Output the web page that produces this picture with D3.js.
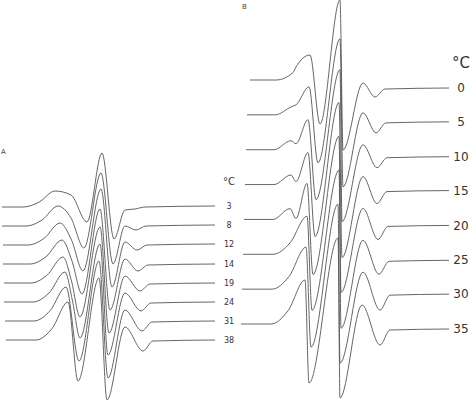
<!DOCTYPE html>
<html><head><meta charset="utf-8">
<script src="https://cdn.jsdelivr.net/npm/d3@7"></script>
<style>body{margin:0;background:#fff}svg{display:block}</style>
</head><body><svg id="c" width="474" height="403"></svg>
<script>
// ---- Panel A (temperatures, °C) ----
const tempsA = [3, 8, 12, 14, 19, 24, 31, 38];
const startA = [2, 2, 3, 3, 4, 4, 5, 6];
const lowXA = [55, 58, 60, 62, 63, 65, 66, 68];
const lowAmpA = [16, 20, 22, 24, 26, 30, 34, 38];
const midAmpA = [12, 8, 5, 3, 2, 1, 0, 0];
const dip1XA = [87, 84, 83, 82, 80, 80, 79, 78];
const dip1AmpA = [-15, -22, -26, -30, -34, -36, -40, -41];
const cPeakXA = [102, 101, 101, 100, 100, 100, 99, 99];
const cPeakAmpA = [54, 53, 56, 55, 56, 58, 60, 62];
const cDipXA = [114, 113, 112, 110, 109, 108, 108, 107];
const cDipAmpA = [-32, -38, -42, -46, -50, -53, -57, -60];
const hPeakXA = [125, 125, 125, 125, 125, 125, 125, 125];
const hPeakAmpA = [-3, 0, 3, 5, 7, 9, 11, 13];
const hDipXA = [135, 136, 137, 138, 140, 141, 142, 143];
const hDipAmpA = [-2, -4, -5, -7, -8, -9, -10, -11];
const tailAmpA = [1, 1, 1, 0, 0, 0, 0, 0];
// ---- Panel B ----
const tempsB = [0, 5, 10, 15, 20, 25, 30, 35];
const startB = [250, 247, 246, 245, 244, 243, 242, 241];
const lowXB = [310, 309, 308, 308, 307, 307, 306, 305];
const lowAmpB = [25, 28, 30, 32, 36, 38, 42, 44];
const shoulderAmpB = [13, 10, 6, 3, 1, 0, 0, 0];
const midAmpB = [0, 0, 0, 0, 0, 0, 0, 0];
const dip1XB = [320, 318, 316, 315, 313, 312, 311, 309];
const dip1AmpB = [-44, -48, -50, -52, -55, -56, -58, -59];
const cPeakXB = [340, 340, 340, 339, 339, 339, 338, 338];
const cPeakAmpB = [80, 76, 80, 82, 83, 84, 85, 86];
const cDipXB = [343, 343, 342, 342, 341, 341, 340, 340];
const cDipAmpB = [-70, -72, -72, -73, -73, -74, -74, -74];
const hPeakXB = [363, 363, 363, 363, 363, 363, 363, 362];
const hPeakAmpB = [-3, 2, 5, 8, 11, 14, 17, 19];
const hDipXB = [375, 376, 377, 377, 378, 379, 380, 380];
const hDipAmpB = [-17, -18, -18, -19, -20, -20, -21, -21];
const tailAmpB = [-8, -7, -7, -6, -6, -6, -5, -5];

const svg = d3.select("#c");
const col = "#555";

function buildPoints(P, i, endX, shoulderX) {
  const pts = [[P.start[i], 0], [P.lowX[i] - P.rise, 0], [P.lowX[i] - P.rise / 2, P.lowAmp[i] * 0.3]];
  if (P.shoulder && P.shoulder[i] > 0) pts.push([shoulderX, P.shoulder[i]]);
  pts.push([P.lowX[i], P.lowAmp[i]]);
  if (P.mid[i] > 0) pts.push([(P.lowX[i] + P.dip1X[i]) / 2, P.mid[i]]);
  pts.push([P.dip1X[i], P.dip1Amp[i]]);
  pts.push([P.cPeakX[i], P.cPeakAmp[i]]);
  pts.push([P.cDipX[i], P.cDipAmp[i]]);
  pts.push([P.hPeakX[i], P.hPeakAmp[i]]);
  pts.push([P.hDipX[i], P.hDipAmp[i]]);
  pts.push([P.hDipX[i] + 10, P.tail[i] - 1]);
  pts.push([endX, P.tail[i]]);
  return pts;
}

function panel(P) {
  const x = d3.scaleLinear().domain(P.xDomain).range(P.xRange);
  const yBase = d3.scaleLinear().domain([0, P.temps.length - 1]).range(P.baseRange);
  const g = svg.append("g");
  P.temps.forEach((t, i) => {
    const pts = buildPoints(P, i, P.endX, P.shoulderX);
    const line = d3.line().x(d => x(d[0])).y(d => yBase(i) - d[1] * P.ampScale).curve(d3.curveMonotoneX);
    g.append("path").attr("d", line(pts)).attr("fill", "none").attr("stroke", col).attr("stroke-width", 0.9);
    g.append("text").attr("x", P.labelX).attr("y", yBase(i) - P.tail[i] * P.ampScale + P.fs * 0.35)
      .attr("font-family", "DejaVu Sans, sans-serif").attr("font-size", P.fs).attr("fill", "#333")
      .attr("text-anchor", "middle").text(t);
  });
  g.append("text").attr("x", P.labelX).attr("y", P.unitY).attr("font-family", "DejaVu Sans, sans-serif")
    .attr("font-size", P.fs * 1.25).attr("fill", "#333").attr("text-anchor", "middle").text("°C");
  g.append("text").attr("x", P.letterX).attr("y", P.letterY).attr("font-family", "DejaVu Sans, sans-serif")
    .attr("font-size", 7).attr("fill", "#444").text(P.letter);
}

panel({temps: tempsA, start: startA, lowX: lowXA, lowAmp: lowAmpA, mid: midAmpA, dip1X: dip1XA, dip1Amp: dip1AmpA,
  cPeakX: cPeakXA, cPeakAmp: cPeakAmpA, cDipX: cDipXA, cDipAmp: cDipAmpA, hPeakX: hPeakXA, hPeakAmp: hPeakAmpA,
  hDipX: hDipXA, hDipAmp: hDipAmpA, tail: tailAmpA, endX: 215, xDomain: [0, 474], xRange: [0, 474], rise: 32,
  baseRange: [207, 340], ampScale: 1, labelX: 229, fs: 8, unitY: 185, letter: "A", letterX: 1, letterY: 154});
panel({temps: tempsB, start: startB, lowX: lowXB, lowAmp: lowAmpB, shoulder: shoulderAmpB, shoulderX: 296, mid: midAmpB,
  dip1X: dip1XB, dip1Amp: dip1AmpB, cPeakX: cPeakXB, cPeakAmp: cPeakAmpB, cDipX: cDipXB, cDipAmp: cDipAmpB,
  hPeakX: hPeakXB, hPeakAmp: hPeakAmpB, hDipX: hDipXB, hDipAmp: hDipAmpB, tail: tailAmpB, endX: 449, rise: 34,
  xDomain: [0, 474], xRange: [0, 474], baseRange: [80, 324], ampScale: 1, labelX: 461, fs: 12, unitY: 68,
  letter: "B", letterX: 242, letterY: 9});
</script></body></html>
